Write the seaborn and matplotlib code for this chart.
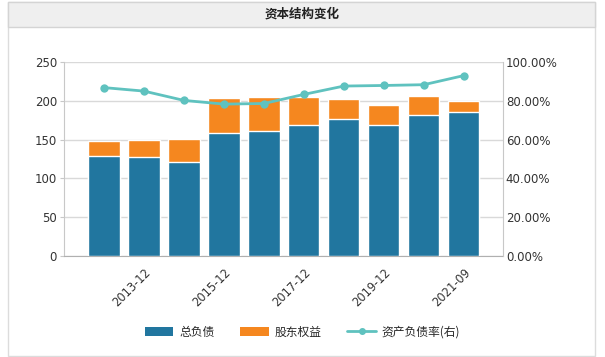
import numpy as np
import pandas as pd
import matplotlib
matplotlib.use("Agg")
import matplotlib.pyplot as plt
import seaborn as sns
from matplotlib.patches import Patch, Rectangle
from matplotlib.lines import Line2D
from matplotlib.ticker import FuncFormatter, MultipleLocator

# 数据
periods = ["2012-12", "2013-12", "2014-12", "2015-12", "2016-12",
           "2017-12", "2018-12", "2019-12", "2020-12", "2021-09"]
total_debt = [129.3, 128.0, 121.1, 158.6, 161.6, 169.4, 176.3, 169.4, 181.4, 185.3]
equity = [18.5, 21.6, 29.8, 44.4, 42.7, 34.9, 25.4, 24.6, 24.6, 13.8]
debt_ratio = [86.8, 85.0, 80.2, 78.3, 78.6, 83.3, 87.6, 87.9, 88.3, 93.0]
shown_labels = ["2013-12", "2015-12", "2017-12", "2019-12", "2021-09"]

c_debt = "#21769f"
c_eq = "#f5871f"
c_line = "#5fc2bf"

df = pd.DataFrame({"period": periods, "debt": total_debt, "equity": equity,
                   "ratio": debt_ratio})
df["total"] = df["debt"] + df["equity"]

sns.set_style("white")
plt.rcParams["font.family"] = ["DejaVu Sans", "Noto Sans CJK SC"]

fig = plt.figure(figsize=(6.05, 3.57), dpi=100)
ax = fig.add_axes([64 / 605, 1 - 256 / 357, (503 - 64) / 605, (256 - 62) / 357])

# 外框和标题栏
fig.patches.append(Rectangle((8 / 605, 0.004), 587 / 605, 0.99, transform=fig.transFigure,
                             facecolor="none", edgecolor="#dcdcdc", lw=1, zorder=0))
fig.patches.append(Rectangle((8 / 605, 1 - 27 / 357), 587 / 605, 25 / 357,
                             transform=fig.transFigure, facecolor="#efefef",
                             edgecolor="#d4d4d4", lw=1, zorder=0))
fig.text(0.5, 1 - 14 / 357, "资本结构变化", ha="center", va="center",
         fontsize=9, fontweight="bold", color="#222222",
         family=["Noto Sans CJK SC", "DejaVu Sans"])

# 堆叠柱状图
sns.barplot(data=df, x="period", y="total", order=periods, color=c_eq,
            width=0.78, saturation=1, ax=ax, zorder=2)
sns.barplot(data=df, x="period", y="debt", order=periods, color=c_debt,
            width=0.78, saturation=1, ax=ax, zorder=3)

ax.set_xlim(-1, 9.98)
ax.set_ylim(0, 250)
ax.yaxis.set_major_locator(MultipleLocator(50))
ax.grid(axis="y", color="#d9d9d9", lw=1, zorder=0)
ax.set_axisbelow(True)
ax.set_xlabel("")
ax.set_ylabel("")
ax.set_xticks([periods.index(p) for p in shown_labels])
ax.set_xticklabels(shown_labels, rotation=45, ha="right", rotation_mode="anchor")
ax.tick_params(axis="x", length=4, color="#333333", labelsize=8.3, labelcolor="#333333", pad=3)
ax.tick_params(axis="y", length=3, color="#c8c8c8", labelsize=8.5, labelcolor="#333333", pad=2)
for s in ["top", "right"]:
    ax.spines[s].set_visible(False)
ax.spines["left"].set_color("#c8c8c8")
ax.spines["bottom"].set_color("#b0b0b0")

# 资产负债率（右轴）
ax2 = ax.twinx()
sns.lineplot(data=df, x="period", y="ratio", color=c_line, lw=2, marker="o",
             markersize=6, markeredgewidth=0, sort=False, ax=ax2, zorder=4)
ax2.set_ylim(0, 100)
ax2.yaxis.set_major_locator(MultipleLocator(20))
ax2.yaxis.set_major_formatter(FuncFormatter(lambda v, _: f"{v:.2f}%"))
ax2.set_ylabel("")
ax2.tick_params(axis="y", length=0, labelsize=8.5, labelcolor="#333333", pad=2)
for s in ["top", "left", "bottom"]:
    ax2.spines[s].set_visible(False)
ax2.spines["right"].set_color("#c8c8c8")
ax2.set_xlim(-1, 9.98)

handles = [Patch(facecolor=c_debt, edgecolor="none"),
           Patch(facecolor=c_eq, edgecolor="none"),
           Line2D([0], [0], color=c_line, lw=2, marker="o", markersize=4)]
fig.legend(handles, ["总负债", "股东权益", "资产负债率(右)"], loc="center",
           bbox_to_anchor=(0.5, 1 - 332 / 357), ncol=3, frameon=False,
           prop={"family": ["Noto Sans CJK SC", "DejaVu Sans"], "size": 8.5},
           handlelength=2.4, handleheight=0.9, columnspacing=2.2, handletextpad=0.5)

fig.savefig("out.png", dpi=100)
